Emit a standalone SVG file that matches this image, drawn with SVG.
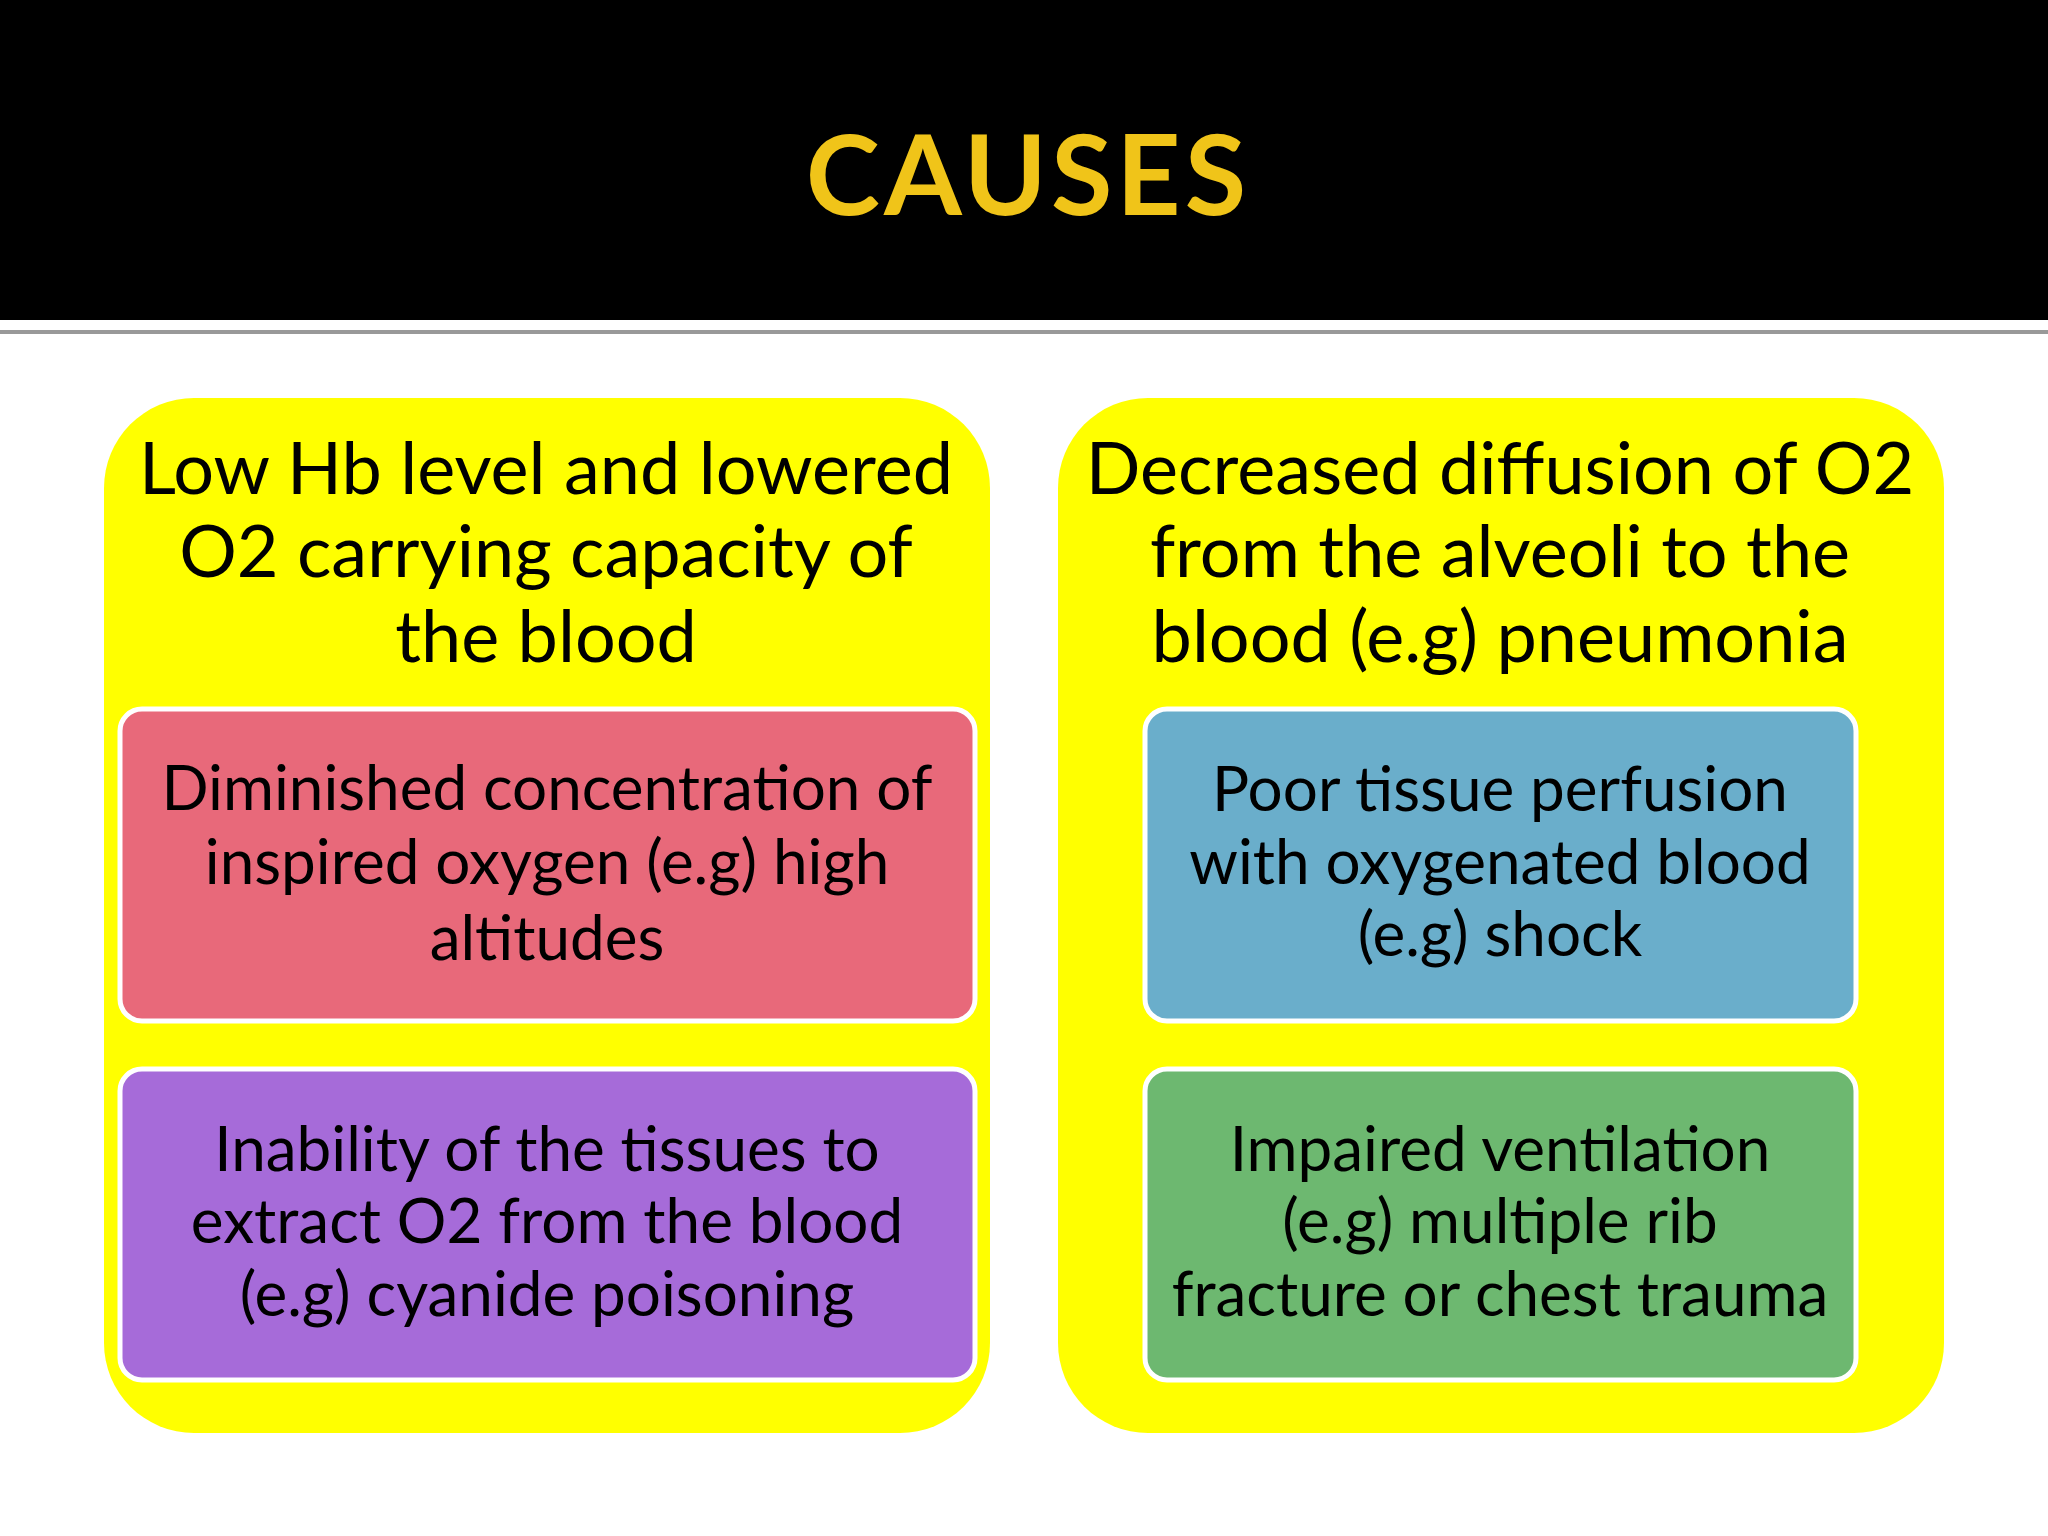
<svg xmlns="http://www.w3.org/2000/svg" width="2048" height="1536" viewBox="0 0 2048 1536">
<style>
.t{font-family:Lato,"Open Sans",sans-serif;text-anchor:middle;fill:#000}
.h{font-size:72px}
.b{font-size:62px}
.yb{fill:#ffff00}
.in{stroke:#fff;stroke-width:5}
</style>
<rect width="2048" height="1536" fill="#fff"/>
<rect width="2048" height="320" fill="#000"/>
<rect y="330" width="2048" height="4" fill="#999"/>
<text x="1028" y="215" font-family="Lato,'Open Sans',sans-serif" font-weight="bold" font-size="112" fill="#f0c419" text-anchor="middle" letter-spacing="4">CAUSES</text>
<g id="left">
<rect class="yb" x="104" y="398" width="886" height="1035" rx="90"/>
<text class="t h"><tspan x="546" y="494">Low Hb level and lowered</tspan><tspan x="546" y="577">O2 carrying capacity of</tspan><tspan x="546" y="662">the blood</tspan></text>
</g>
<g id="right">
<rect class="yb" x="1058" y="398" width="886" height="1035" rx="90"/>
<text class="t h"><tspan x="1500" y="494">Decreased diffusion of O2</tspan><tspan x="1500" y="577">from the alveoli to the</tspan><tspan x="1500" y="662">blood (e.g) pneumonia</tspan></text>
</g>
<g id="red">
<rect class="in" x="120" y="709" width="855" height="312" rx="22" fill="#e8697a"/>
<text class="t b"><tspan x="547" y="810">Diminished concentration of</tspan><tspan x="547" y="884">inspired oxygen (e.g) high</tspan><tspan x="547" y="960">altitudes</tspan></text>
</g>
<g id="purple">
<rect class="in" x="120" y="1069" width="855" height="311" rx="22" fill="#a66bd9"/>
<text class="t b"><tspan x="547" y="1171">Inability of the tissues to</tspan><tspan x="547" y="1243">extract O2 from the blood</tspan><tspan x="547" y="1316">(e.g) cyanide poisoning</tspan></text>
</g>
<g id="blue">
<rect class="in" x="1145" y="709" width="711" height="312" rx="22" fill="#6aaecb"/>
<text class="t b"><tspan x="1500" y="811">Poor tissue perfusion</tspan><tspan x="1500" y="884">with oxygenated blood</tspan><tspan x="1500" y="956">(e.g) shock</tspan></text>
</g>
<g id="green">
<rect class="in" x="1145" y="1069" width="711" height="311" rx="22" fill="#6db870"/>
<text class="t b"><tspan x="1500" y="1171">Impaired ventilation</tspan><tspan x="1500" y="1243">(e.g)  multiple rib</tspan><tspan x="1500" y="1316">fracture or chest trauma</tspan></text>
</g>
<g id="connectors"/>
</svg>
